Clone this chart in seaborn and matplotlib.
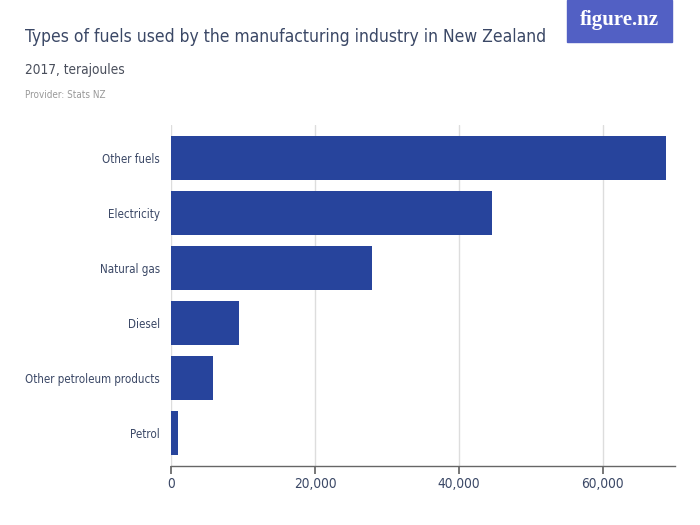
import matplotlib
matplotlib.use("Agg")
import matplotlib.pyplot as plt
import seaborn as sns
import pandas as pd
from matplotlib.patches import Rectangle
from matplotlib.ticker import FuncFormatter
from matplotlib import font_manager as fm

categories = ["Other fuels", "Electricity", "Natural gas", "Diesel",
              "Other petroleum products", "Petrol"]
values = [68800, 44600, 27900, 9400, 5800, 1000]
xticks = [0, 20000, 40000, 60000]

df = pd.DataFrame({"fuel": categories, "tj": values})

sns.set_theme(style="white")

# pick a condensed sans font if one exists
cond = None
for f in fm.fontManager.ttflist:
    nm = f.name.lower()
    fn = f.fname.lower()
    if ("serif" in nm and "sans" not in nm) or "mono" in nm or "bold" in fn or "oblique" in fn or "italic" in fn:
        continue
    if ("narrow" in nm or "condensed" in nm or "condensed" in fn or "narrow" in fn
            or str(f.stretch) in ("condensed", "semi-condensed", "extra-condensed")):
        cond = f
        break
if cond is not None:
    base_family = cond.name
else:
    base_family = "Roboto"
plt.rcParams['font.family'] = [base_family, 'DejaVu Sans']
if cond is not None and str(cond.stretch) != "normal":
    plt.rcParams['font.stretch'] = cond.stretch

text_col = "#3b4866"
fig = plt.figure(figsize=(7, 5.25), dpi=100)
ax = fig.add_axes([0.2443, 0.1124, 0.7197, 0.6495])

sns.barplot(data=df, x="tj", y="fuel", color="#27449c", saturation=1,
            width=0.8, ax=ax, zorder=3, linewidth=0)

ax.set_xlim(0, 70000)
ax.set_ylim(5.6, -0.6)
ax.set_xticks(xticks)
ax.xaxis.set_major_formatter(FuncFormatter(lambda v, p: f"{int(v):,}"))
ax.grid(axis="x", color="#dddddd", linewidth=1, zorder=0)
ax.set_axisbelow(True)
ax.set_xlabel("")
ax.set_ylabel("")
for s in ["top", "right", "left"]:
    ax.spines[s].set_visible(False)
ax.spines["bottom"].set_color("#666666")
ax.spines["bottom"].set_linewidth(1)
ax.tick_params(axis="x", bottom=True, length=6, color="#666666",
               labelsize=9.8, labelcolor=text_col, pad=2)
ax.tick_params(axis="y", left=False, length=0, labelsize=10, labelcolor=text_col, pad=8)

title = fig.text(25/700, 1-37/525, "Types of fuels used by the manufacturing industry in New Zealand",
                 fontsize=15, color=text_col, va="center", ha="left")
sub = fig.text(25/700, 1-70/525, "2017, terajoules", fontsize=12, color="#4a4f5c",
               va="center", ha="left")
prov = fig.text(25/700, 1-95/525, "Provider: Stats NZ", fontsize=8, color="#999999",
                va="center", ha="left")

fig.patches.append(Rectangle((567/700, 1-42/525), 105/700, 42/525,
                             transform=fig.transFigure, color="#5260c4", zorder=1))
fig.text(619/700, 1-20/525, "figure.nz", fontsize=15, color="white",
         family=["Liberation Serif", "DejaVu Serif"], fontweight="bold",
         va="center", ha="center", zorder=2)

# fit text widths to the reference layout
fig.canvas.draw()
r = fig.canvas.get_renderer()
def fit(t, target_px):
    w = t.get_window_extent(r).width
    if w > target_px:
        t.set_fontsize(t.get_fontsize() * target_px / w)
fit(title, 523)
fit(sub, 100)
fit(prov, 80)
for lab in ax.get_yticklabels():
    w = lab.get_window_extent(r).width
    if w > 135:
        for l2 in ax.get_yticklabels():
            l2.set_fontsize(l2.get_fontsize() * 135 / w)
        break

fig.savefig("out.png", dpi=100)
